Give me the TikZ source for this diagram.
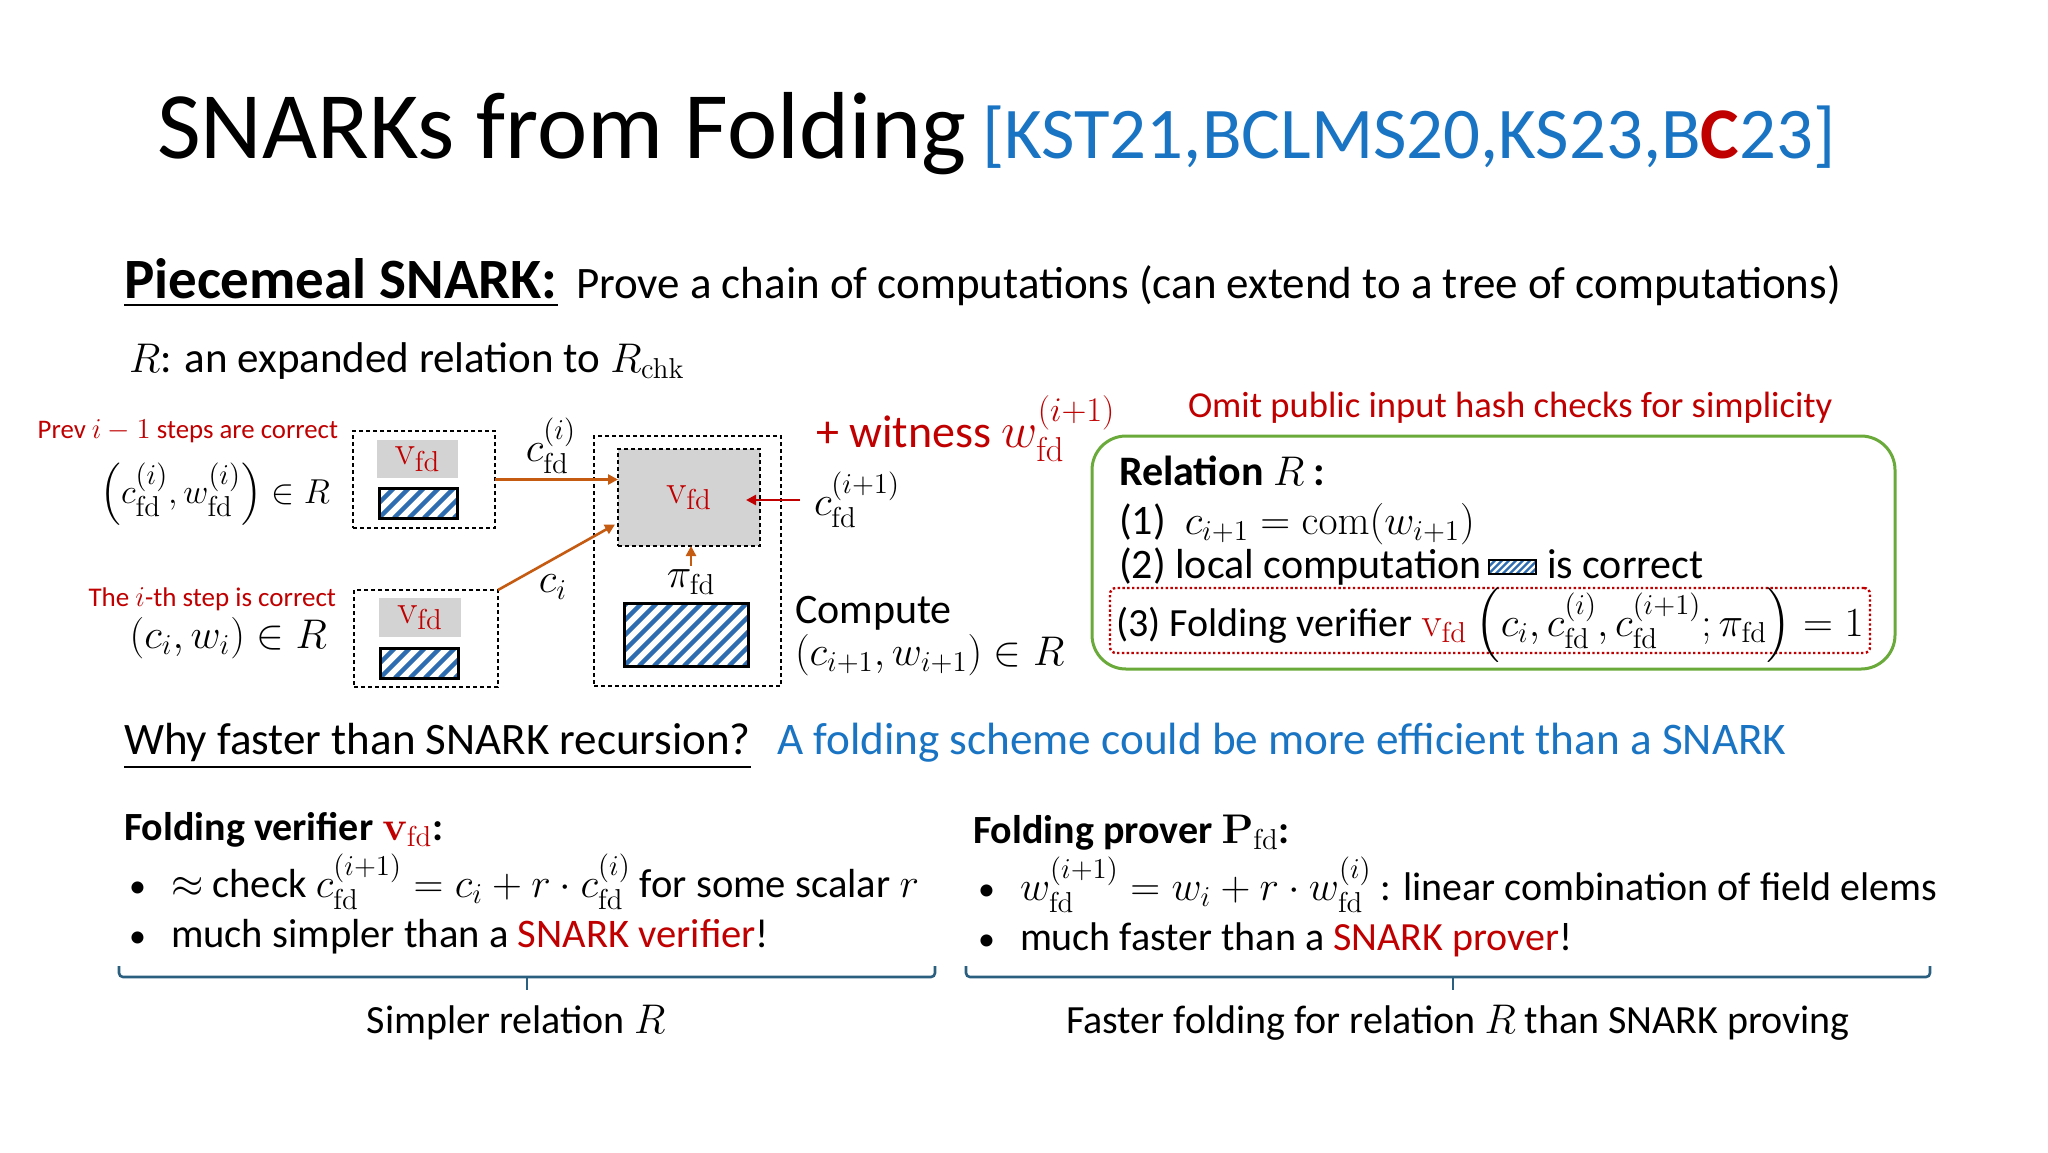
\documentclass[tikz,border=0pt]{standalone}
\usepackage[no-math]{fontspec}
\setmainfont{Carlito}
\usepackage{amsmath}
\usetikzlibrary{arrows.meta,calc}
\definecolor{cblue}{HTML}{1A74C4}
\definecolor{cred}{HTML}{C00000}
\definecolor{corange}{HTML}{C55A11}
\definecolor{cgreen}{HTML}{6AAA3A}
\definecolor{chatch}{HTML}{2E6DB0}
\definecolor{cbrace}{HTML}{2B5F80}
\definecolor{cgray}{HTML}{D3D3D3}
\newcommand{\fd}{\mathrm{fd}}
\begin{document}
\begin{tikzpicture}[x=0.5pt,y=-0.5pt,
  every node/.style={inner sep=0pt,outer sep=0pt},
  sz/.style={font=\fontsize{#1}{#1}\selectfont},
  tx/.style={anchor=base west},
  dbox/.style={draw,dash pattern=on 2pt off 1.5pt,line width=0.7pt},
  graybox/.style={fill=cgray},
  hatchbox/.style={draw,line width=1.5pt,fill=white,path picture={
     \foreach \k in {-8,...,14}{\draw[chatch,line width=2.2pt]
       ($(path picture bounding box.south west)+(\k*15,0)$) -- ++(120,-120);}}},
  oarr/.style={draw=corange,line width=1.3pt,-{Triangle[length=5pt,width=5pt]}},
  rarr/.style={draw=cred,line width=1.3pt,-{Triangle[length=5pt,width=5pt]}},
  brc/.style={draw=cbrace,line width=1.3pt,rounded corners=2pt}
]
\useasboundingbox (0,0) rectangle (2048,1152);
\fill[white] (0,0) rectangle (2048,1152);

% title
\node[tx,sz=47.6] (title) at (157,158) {SNARKs from Folding};
\node[tx,sz=36.4,text=cblue] (cite) at (982,158) {[KST21,BCLMS20,KS23,B{\bfseries\color{cred}C}23]};

\node[tx,sz=28.5] (pm) at (124,298) {\bfseries\underline{Piecemeal SNARK:}};
\node[tx,sz=22.5] (prove) at (576,298) {Prove a chain of computations (can extend to a tree of computations)};
\node[tx,sz=21.5] (rdef) at (129,372) {$R$: an expanded relation to $R_{\mathrm{chk}}$};

% left labels
\node[anchor=base east,sz=13.4,text=cred] (prev) at (338,438) {Prev $i-1$ steps are correct};
\node[anchor=east,sz=19] (rel1) at (330,494) {$\left(c_{\fd}^{(i)},w_{\fd}^{(i)}\right)\in R$};
\node[anchor=base east,sz=13.5,text=cred] (ith) at (336,606) {The $i$-th step is correct};
\node[anchor=east,sz=19.5] (rel2) at (327,638) {$(c_i,w_i)\in R$};

% top-left box
\node[dbox,minimum width=71pt,minimum height=48.5pt] (tl) at (424,479.5) {};
\node[graybox,minimum width=40.5pt,minimum height=19pt,sz=22,text=cred] (tlv) at (417.5,459) {$\mathrm{v}_{\fd}$};
\node[hatchbox,minimum width=39pt,minimum height=15pt] (tlh) at (418,503) {};
% bottom-left box
\node[dbox,minimum width=72pt,minimum height=48.5pt] (bl) at (426,638.5) {};
\node[graybox,minimum width=41pt,minimum height=19.5pt,sz=22,text=cred] (blv) at (420,617.5) {$\mathrm{v}_{\fd}$};
\node[hatchbox,minimum width=39pt,minimum height=15pt] (blh) at (419,663) {};
% big box
\node[dbox,minimum width=93.5pt,minimum height=125pt] (big) at (687.5,561) {};
\node[dbox,fill=cgray,minimum width=71pt,minimum height=48.5pt,sz=22,text=cred] (vin) at (689,497.5) {$\mathrm{v}_{\fd}$};
\node[hatchbox,minimum width=62pt,minimum height=31.5pt] (bigh) at (686,634.5) {};
\node[sz=20] (pi) at (691,582) {$\pi_{\fd}$};

% arrows
\draw[oarr] (tl.east) -- (tl.east -| vin.west);
\coordinate (cin) at ($(vin.west)+(-3,27)$);
\draw[oarr] (bl.north east) -- (cin);
\draw[oarr] ($(pi.north)+(0,-4)$) -- (pi.north |- vin.south);
\node[sz=20] (lcf) at (551,446) {$c_{\fd}^{(i)}$};
\node[sz=20] (lci) at (553,587) {$c_i$};

\node[anchor=west,sz=20] (cfd1) at (814,500) {$c_{\fd}^{(i+1)}$};
\draw[rarr] ([xshift=-7pt]cfd1.west) -- ([xshift=-7pt]cfd1.west -| vin.east);
\node[tx,sz=23,text=cred] (wit) at (816,447) {+ witness $w_{\fd}^{(i+1)}$};
\node[tx,sz=21] (comp) at (795,623) {Compute};
\node[anchor=west,sz=20] (comp2) at (795,655) {$(c_{i+1},w_{i+1})\in R$};

% relation box
\node[tx,sz=18.3,text=cred] (omit) at (1188,417) {Omit public input hash checks for simplicity};
\node[draw=cgreen,line width=1.5pt,rounded corners=17pt,minimum width=401.5pt,minimum height=116.5pt] (relbox) at (1493.5,552.5) {};
\node[tx,sz=21] (rel) at (1119,485) {\bfseries Relation $R$ :};
\node[tx,sz=21] (r1) at (1119,534) {(1)\ \ $c_{i+1}=\mathrm{com}(w_{i+1})$};
\node[tx,sz=21] (r2) at (1119,578) {(2)\ local computation};
\node[hatchbox,line width=1pt,minimum width=23.5pt,minimum height=7pt,path picture={
   \foreach \k in {-4,...,12}{\draw[chatch,line width=1.2pt]
     ($(path picture bounding box.south west)+(\k*7,0)$) -- ++(40,-40);}}] (r2h) at (1512,567) {};
\node[tx,sz=21] (r2b) at (1547,578) {is correct};
\node[draw=cred,dash pattern=on 1.2pt off 1.2pt,line width=1.2pt,rounded corners=3pt,minimum width=380pt,minimum height=32.5pt] (dot) at (1490,620.5) {};
\node[tx,sz=20] (r3) at (1116,636) {(3)\ Folding verifier {\color{cred}$\mathrm{v}_{\fd}$} $\Bigl(c_i,c_{\fd}^{(i)},c_{\fd}^{(i+1)};\pi_{\fd}\Bigr)=1$};

% why
\node[tx,sz=22.5] (why) at (124,754) {\underline{Why faster than SNARK recursion?}};
\node[tx,sz=22.6,text=cblue] (ans) at (777,754) {A folding scheme could be more efficient than a SNARK};

% bottom left
\node[tx,sz=20] (fv) at (124,840) {\bfseries Folding verifier {\color{cred}$\mathbf{v}_{\mathrm{fd}}$}:};
\node[tx,sz=17] (b1) at (129,897) {•};
\node[tx,sz=20.3] (b1t) at (171,897) {$\approx$ check $c_{\fd}^{(i+1)}=c_i+r\cdot c_{\fd}^{(i)}$ for some scalar $r$};
\node[tx,sz=17] (b2) at (129,947) {•};
\node[tx,sz=20.3] (b2t) at (171,947) {much simpler than a {\color{cred}SNARK verifier}!};
\draw[brc] (119,966) -- (119,977) -- (935,977) -- (935,966);
\draw[brc] (527,977) -- (527,990);
\node[anchor=base,sz=20] (simp) at (516,1033) {Simpler relation $R$};

% bottom right
\node[tx,sz=20] (fp) at (973,843) {\bfseries Folding prover $\mathbf{P}_{\mathrm{fd}}$:};
\node[tx,sz=17] (c1) at (978,900) {•};
\node[tx,sz=20] (c1t) at (1020,900) {$w_{\fd}^{(i+1)}=w_i+r\cdot w_{\fd}^{(i)}$ : linear combination of field elems};
\node[tx,sz=17] (c2) at (978,950) {•};
\node[tx,sz=20] (c2t) at (1020,950) {much faster than a {\color{cred}SNARK prover}!};
\draw[brc] (966,966) -- (966,977) -- (1930,977) -- (1930,966);
\draw[brc] (1453,977) -- (1453,990);
\node[anchor=base,sz=20] (fast) at (1458,1033) {Faster folding for relation $R$ than SNARK proving};
\end{tikzpicture}
\end{document}
